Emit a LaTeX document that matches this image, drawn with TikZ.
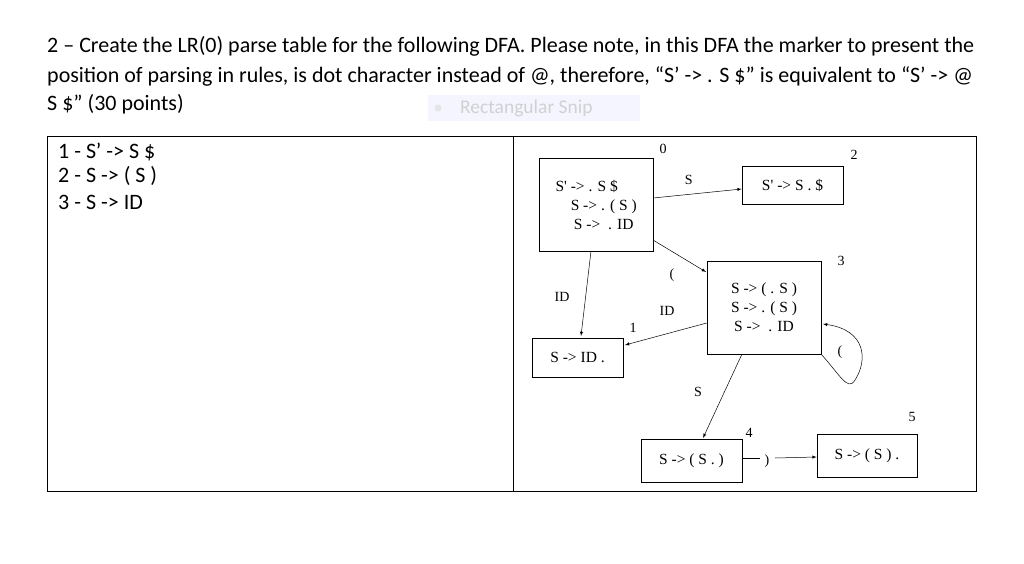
\documentclass[tikz,border=0pt]{standalone}
\usepackage{fontspec}
\setmainfont{Carlito}
\newfontfamily\tms{Liberation Serif}
\begin{document}
\begin{tikzpicture}[x=1pt,y=-1pt,
  st/.style={draw,line width=0.6pt,minimum width=0pt,inner sep=0pt,align=center,font=\tms\fontsize{15.5}{19}\selectfont},
  lb/.style={font=\tms\fontsize{14}{16}\selectfont},
  ar/.style={-latex,line width=0.5pt},
  hd/.style={anchor=west,font=\fontsize{22}{24}\selectfont,inner sep=0pt}]
\useasboundingbox (0,0) rectangle (1024,564);
\node[hd] (h1) at (47,46) {2 – Create the LR(0) parse table for the following DFA. Please note, in this DFA the marker to present the};
\node[hd] (h2) at (47,76) {position of parsing in rules, is dot character instead of @, therefore, “S’ -> . S \$” is equivalent to “S’ -> @};
\node[hd] (h3) at (47,104) {S \$” (30 points)};
\fill[blue!4] (428,95) rectangle (640,121);
\fill[black!10] (438,108) circle (3.5);
\node[anchor=west,text=black!18,font=\fontsize{19.5}{22}\selectfont,inner sep=0pt] (snip) at (460,108) {Rectangular Snip};
\draw[line width=0.6pt] (47,136) rectangle (976,491);
\draw[line width=0.6pt] (513,136) -- (513,491);
\node[hd] (r1) at (58,152) {1 - S’ -> S \$};
\node[hd] (r2) at (58,176) {2 - S -> ( S )};
\node[hd] (r3) at (58,202) {3 - S -> ID};
\node[st,minimum width=114pt,minimum height=93pt] (s0) at (596,204.5) {S' -> . S \$\hspace*{1.2em}\\\hspace*{1em}S -> . ( S )\\\hspace*{1em}S -> \ . ID};
\node[st,minimum width=101pt,minimum height=38pt] (s2) at (792.5,185) {S' -> S . \$};
\node[st,minimum width=114pt,minimum height=93pt] (s3) at (764,307.5) {S -> ( . S )\\S -> . ( S )\\S -> \ . ID};
\node[st,minimum width=91pt,minimum height=39pt] (s1) at (577.5,357.5) {S -> ID .};
\node[st,minimum width=101pt,minimum height=43pt] (s4) at (691.5,460.5) {S -> ( S . )};
\node[st,minimum width=100pt,minimum height=43pt] (s5) at (867,455.5) {S -> ( S ) .};
\node[lb] (n0) at (663,149) {0};
\node[lb] (n2) at (854,155) {2};
\node[lb] (n3) at (841,261) {3};
\node[lb] (n1) at (633,328) {1};
\node[lb] (n4) at (749,433) {4};
\node[lb] (n5) at (912,417) {5};
\draw[ar] (s0.east |- 0,198) -- (s2.west |- 0,189) node[pos=0.4,lb,above=6pt] {S};
\draw[ar] (653,240) -- (706,272) node[lb] (lp) at (672,275) {(};
\draw[ar] (591,251) -- (581,336) node[lb] at (562,297) {ID};
\draw[ar] (s3.west |- 0,323) -- (625,345) node[lb] at (667,311) {ID};
\draw[ar] (742,354) -- (703,438) node[lb] at (698,392) {S};
\draw (742,458) -- (760,458);
\node[lb] (rp) at (767,461) {)};
\draw[ar] (775,458) -- (s5.west |- 0,457);
\draw[ar] (821,354) .. controls (840,375) and (848,392) .. (855,380) .. controls (868,360) and (866,330) .. (823,324);
\node[lb] at (840,352) {(};
\end{tikzpicture}
\end{document}
